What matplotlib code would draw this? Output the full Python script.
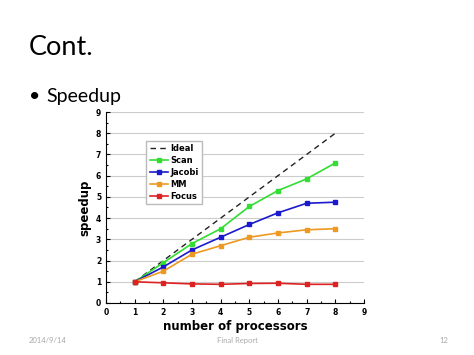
import matplotlib
matplotlib.use('Agg')
import matplotlib.pyplot as plt
from matplotlib.ticker import MultipleLocator

procs = [1, 2, 3, 4, 5, 6, 7, 8]
ideal = [1, 2, 3, 4, 5, 6, 7, 8]
scan = [1.0, 1.9, 2.8, 3.5, 4.55, 5.3, 5.85, 6.6]
jacobi = [1.0, 1.7, 2.5, 3.1, 3.7, 4.25, 4.7, 4.75]
mm = [1.0, 1.5, 2.3, 2.7, 3.1, 3.3, 3.45, 3.5]
focus = [1.0, 0.95, 0.9, 0.88, 0.92, 0.93, 0.88, 0.88]

fig = plt.figure(figsize=(4.74, 3.55), dpi=100)
fig.patch.set_facecolor('white')

# slide texts
fig.text(0.06, 0.845, 'Cont.', fontsize=19.5, family='Lato', va='baseline')
fig.text(0.062, 0.712, '\u2022', fontsize=14, family='Lato', va='baseline')
fig.text(0.097, 0.712, 'Speedup', fontsize=14, family='Lato', va='baseline')
fig.text(0.06, 0.035, '2014/9/14', fontsize=5.5, color='#aaaaaa', family='Lato')
fig.text(0.5, 0.035, 'Final Report', fontsize=5.5, color='#aaaaaa', family='Lato', ha='center')
fig.text(0.945, 0.035, '12', fontsize=5.5, color='#aaaaaa', family='Lato', ha='right')

ax = fig.add_axes([0.2236, 0.1465, 0.5444, 0.538])
ax.plot(procs, ideal, '--', color='#222222', lw=1, dashes=(4, 3), label='Ideal')
ax.plot(procs, scan, '-s', color='#33dd33', lw=1.2, ms=3.5, label='Scan')
ax.plot(procs, jacobi, '-s', color='#1a1acc', lw=1.2, ms=3.5, label='Jacobi')
ax.plot(procs, mm, '-s', color='#ee9922', lw=1.2, ms=3.5, label='MM')
ax.plot(procs, focus, '-s', color='#dd2222', lw=1.2, ms=3.5, label='Focus')

ax.set_xlim(0, 9)
ax.set_ylim(0, 9)
ax.xaxis.set_major_locator(MultipleLocator(1))
ax.yaxis.set_major_locator(MultipleLocator(1))
ax.xaxis.set_minor_locator(MultipleLocator(0.5))
ax.yaxis.set_minor_locator(MultipleLocator(0.5))
ax.tick_params(which='both', direction='in', labelsize=5.5, width=0.8)
ax.tick_params(which='major', length=3)
ax.tick_params(which='minor', length=1.5)
for lab in ax.get_xticklabels() + ax.get_yticklabels():
    lab.set_fontweight('bold')
ax.grid(axis='y', color='#cccccc', lw=0.8)
ax.set_axisbelow(True)
ax.spines['top'].set_visible(False)
ax.spines['right'].set_visible(False)
ax.set_xlabel('number of processors', fontsize=8.5, fontweight='bold', labelpad=2)
ax.set_ylabel('speedup', fontsize=8.5, fontweight='bold', labelpad=3)

leg = ax.legend(loc='upper left', bbox_to_anchor=(0.14, 0.87),
                prop={'weight': 'bold', 'size': 6}, handlelength=2.2,
                borderpad=0.4, labelspacing=0.35, handletextpad=0.3,
                fancybox=False, framealpha=1, edgecolor='#bbbbbb')

fig.savefig('out.png', dpi=100, facecolor='white')
